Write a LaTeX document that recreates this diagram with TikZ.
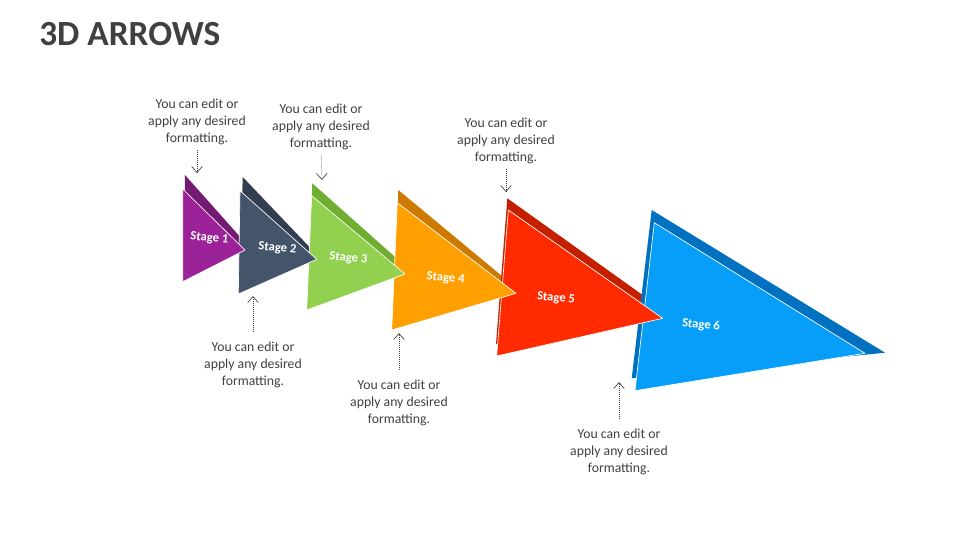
\documentclass[tikz,border=0pt]{standalone}
\usepackage{fontspec}
\setmainfont{Carlito}
\usepackage{xcolor}
\definecolor{ink}{HTML}{404040}
\definecolor{pur}{HTML}{9B2298}
\definecolor{pur2}{HTML}{741A72}
\definecolor{sla}{HTML}{44546A}
\definecolor{sla2}{HTML}{333F50}
\definecolor{grn}{HTML}{92D050}
\definecolor{grn2}{HTML}{70AD30}
\definecolor{org}{HTML}{FFA000}
\definecolor{org2}{HTML}{CC7A00}
\definecolor{rd}{HTML}{FF2A00}
\definecolor{rd2}{HTML}{C42000}
\definecolor{blu}{HTML}{069EF8}
\definecolor{blu2}{HTML}{0070C0}
\usepackage{tikz}
\usetikzlibrary{arrows.meta}
\tikzset{
  >={Straight Barb[length=1.6mm,width=2.8mm]},
  side/.style={fill=#1},
  face/.style={fill=#1,draw=white,line width=0.5pt,line join=round},
  stg/.style={font=\fontsize{9.5}{10}\selectfont\bfseries,text=white,rotate=-6},
  note/.style={font=\fontsize{10.3}{13}\selectfont,text=ink,align=center,inner sep=1pt},
  arr/.style={->,draw=ink,line width=0.5pt,dash pattern=on 0.6pt off 0.9pt},
  arrdn/.style={arr,shorten <=2pt},
  arrup/.style={arr,shorten <=6pt},
}
\begin{document}
\begin{tikzpicture}[x=0.75pt,y=-0.75pt]
\useasboundingbox (0,0) rectangle (960,540);
\node[anchor=base west,font=\fontsize{26.5}{30}\selectfont\bfseries,text=ink,inner sep=0] (ttl) at (39,45) {3D ARROWS};

% depth faces
\fill[side=pur2] (185,175) -- (184,268) -- (250,248) -- cycle;
\fill[side=sla2] (242.7,177) -- (240,281) -- (319,257) -- cycle;
\fill[side=grn2] (312.3,183.3) -- (308,297) -- (412,272) -- cycle;
\fill[side=org2] (398.3,190) -- (393,317) -- (520,291) -- cycle;
\fill[side=rd2] (507.3,198.3) -- (496,344) -- (672,316) -- cycle;
\fill[side=blu2] (651.7,210) -- (631.7,378.3) -- (885,352.7) -- cycle;

% front faces, right to left
\filldraw[face=blu] (654.3,222.7) -- (635,390.7) -- (865,353.3) -- cycle;
\filldraw[face=rd] (508.3,210) -- (496.7,356) -- (662.7,318.3) -- cycle;
\filldraw[face=org] (397.3,202.7) -- (391.7,330) -- (516,293.3) -- cycle;
\filldraw[face=grn] (311.7,195.7) -- (306.7,310) -- (405,274) -- cycle;
\filldraw[face=sla] (240,190.7) -- (238.3,294) -- (316.7,259.3) -- cycle;
\filldraw[face=pur] (182.7,189) -- (182.7,281.7) -- (245,250) -- cycle;

\node[stg] (s1) at (209.3,238.3) {Stage 1};
\node[stg] (s2) at (277.3,248.3) {Stage 2};
\node[stg] (s3) at (348.3,258.3) {Stage 3};
\node[stg] (s4) at (445.7,278.3) {Stage 4};
\node[stg] (s5) at (556,298.3) {Stage 5};
\node[stg] (s6) at (701,325.3) {Stage 6};

% notes
\node[note] (n1) at (197,122) {You can edit or\\apply any desired\\formatting.};
\node[note] (n2) at (321,127) {You can edit or\\apply any desired\\formatting.};
\node[note] (n3) at (253,365) {You can edit or\\apply any desired\\formatting.};
\node[note] (n4) at (399,403) {You can edit or\\apply any desired\\formatting.};
\node[note] (n5) at (506,141) {You can edit or\\apply any desired\\formatting.};
\node[note] (n6) at (619,452) {You can edit or\\apply any desired\\formatting.};
\coordinate (e1) at (197,173);
\coordinate (e2) at (322,180);
\coordinate (e3) at (253,296);
\coordinate (e4) at (399,333);
\coordinate (e5) at (506,192);
\coordinate (e6) at (619,382);
\draw[arrdn] (n1.south) -- (e1);
\draw[arrdn] (n2.south) -- (e2);
\draw[arrup] (n3.north) -- (e3);
\draw[arrup] (n4.north) -- (e4);
\draw[arrdn] (n5.south) -- (e5);
\draw[arrup] (n6.north) -- (e6);
\end{tikzpicture}
\end{document}
